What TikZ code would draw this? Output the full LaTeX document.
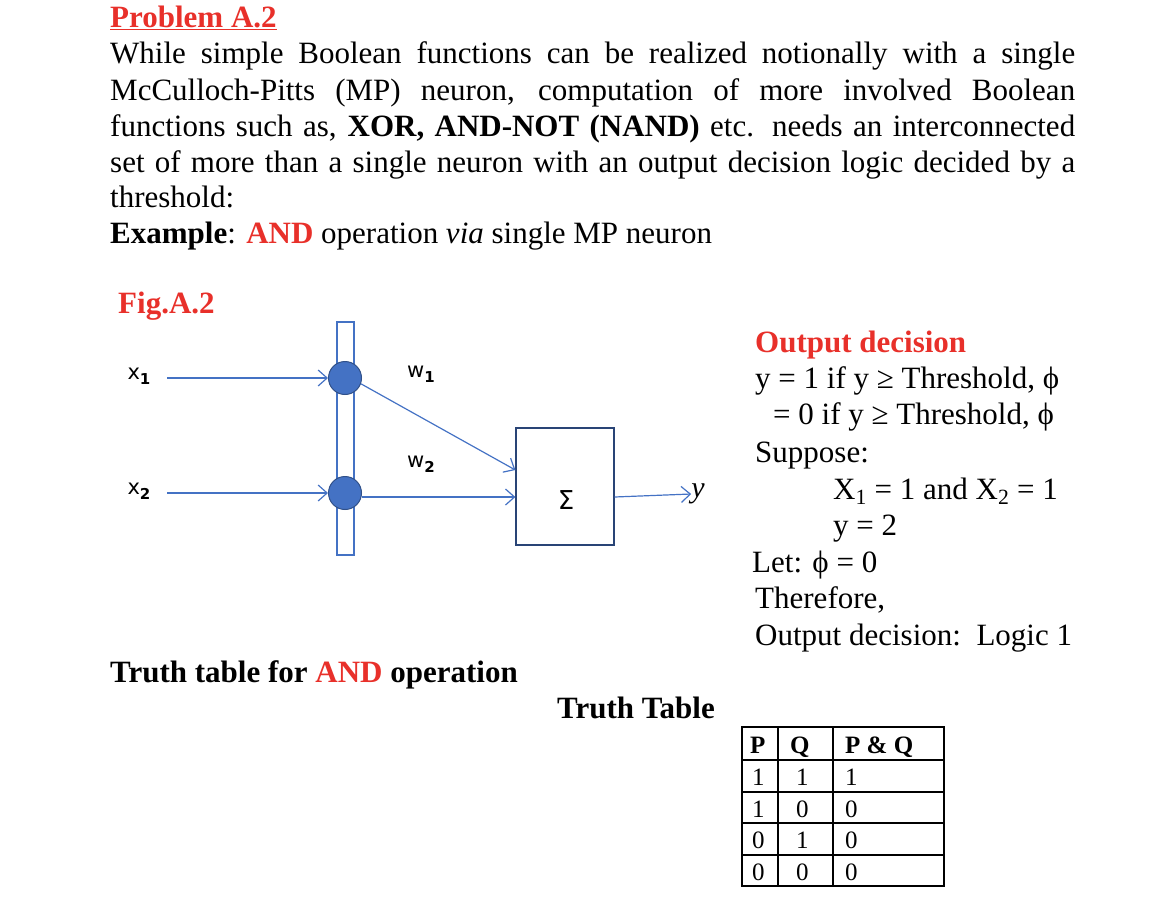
\documentclass[tikz,border=0pt]{standalone}
\usepackage{fontspec}
\setmainfont{Liberation Serif}
\newfontfamily\djv{DejaVu Sans}
\usetikzlibrary{arrows.meta}
\definecolor{rd}{HTML}{E8302A}
\definecolor{bl}{HTML}{4472C4}
\tikzset{
 txt/.style={anchor=base west,inner sep=0pt,font=\fontsize{31}{36}\selectfont},
 lab/.style={inner sep=0pt,font=\djv\fontsize{21}{24}\selectfont},
 conn/.style={draw=bl,line width=1.2pt,-{Straight Barb[length=9pt,width=16pt]}},
 cell/.style={anchor=base west,inner sep=0pt,font=\fontsize{25}{28}\selectfont}
}
\begin{document}
\begin{tikzpicture}[x=1pt,y=-1pt]
\useasboundingbox (0,0) rectangle (1170,897);
\node[txt,text=rd,font=\fontsize{31}{36}\selectfont\bfseries] (t0) at (110,27) {\underline{Problem A.2}};
\node[txt] (t1) at (110,63) {\makebox[965pt][s]{While simple Boolean functions can be realized notionally with a single}};
\node[txt] (t2) at (110,100) {\makebox[965pt][s]{McCulloch-Pitts (MP) neuron, computation of more involved Boolean}};
\node[txt] (t3) at (110,136) {\makebox[965pt][s]{functions such as, \textbf{XOR, AND-NOT (NAND)} etc. needs an interconnected}};
\node[txt] (t4) at (110,172) {\makebox[965pt][s]{set of more than a single neuron with an output decision logic decided by a}};
\node[txt] (t5) at (110,207) {threshold:};
\node[txt] (t6) at (110,243) {\textbf{Example}: \textbf{\color{rd}AND} operation \textit{via} single MP neuron};
\node[txt,text=rd,font=\fontsize{31}{36}\selectfont\bfseries] (fig) at (118,313) {Fig.A.2};
% diagram
\node[draw=bl,line width=1.2pt,minimum width=17pt,minimum height=233pt,inner sep=0pt] (bar) at (345.5,438.5) {};
\node[circle,draw=bl!70!black,fill=bl,minimum width=33pt,inner sep=0pt,line width=1pt] (n1) at (345,378) {};
\node[circle,draw=bl!70!black,fill=bl,minimum width=33pt,inner sep=0pt,line width=1pt] (n2) at (345,493) {};
\node[draw=bl!60!black,line width=1.2pt,minimum width=98pt,minimum height=117pt,inner sep=0pt] (box) at (565,486.5) {};
\node[lab,font=\djv\fontsize{26}{30}\selectfont] (s) at (566,500) {Σ};
\node[lab] (x1) at (139,376) {x\raisebox{-5pt}{\fontsize{15}{18}\selectfont\bfseries 1}};
\node[lab] (x2) at (139,491) {x\raisebox{-5pt}{\fontsize{15}{18}\selectfont\bfseries 2}};
\node[lab] (w1) at (421,374) {w\raisebox{-5pt}{\fontsize{15}{18}\selectfont\bfseries 1}};
\node[lab] (w2) at (421,464) {w\raisebox{-5pt}{\fontsize{15}{18}\selectfont\bfseries 2}};
\node[lab,font=\fontsize{30}{34}\selectfont\itshape] (yy) at (698,494) {y};
\coordinate (a1) at (167,378);
\coordinate (a2) at (167,493);
\draw[conn] (a1) -- (n1.west);
\draw[conn] (a2) -- (n2.west);
\draw[conn] (n1.-20) -- (box.north west |- 0,470);
\draw[conn] (n2.east |- 0,497) -- (box.west |- 0,497);
\draw[conn] (box.east |- 0,497) -- (yy.west);
% right text
\node[txt,text=rd,font=\fontsize{31}{36}\selectfont\bfseries] (od) at (755,352) {Output decision};
\node[txt] (r1) at (755,388) {y = 1 if y ≥ Threshold, ϕ};
\node[txt] (r2) at (773,424) {= 0 if y ≥ Threshold, ϕ};
\node[txt] (r3) at (755,462) {Suppose:};
\node[txt] (r4) at (833,499) {X\textsubscript{1} = 1 and X\textsubscript{2} = 1};
\node[txt] (r5) at (833,535) {y = 2};
\node[txt] (r6) at (752,572) {Let: ϕ = 0};
\node[txt] (r7) at (755,608) {Therefore,};
\node[txt] (r8) at (755,645) {Output decision:\ \ Logic 1};
\node[txt,font=\fontsize{31}{36}\selectfont\bfseries] (tt) at (110,682) {Truth table for {\color{rd}AND} operation};
\node[txt,font=\fontsize{31}{36}\selectfont\bfseries] (tt2) at (557,718) {Truth Table};
% table
\draw[line width=1.6pt] (742,727) rectangle (944,886);
\foreach \yv in {760,792,823,855} \draw[line width=1.2pt] (742,\yv) -- (944,\yv);
\foreach \xv in {778,833} \draw[line width=1.2pt] (\xv,727) -- (\xv,886);
\node[cell,font=\fontsize{25}{28}\selectfont\bfseries] (h1) at (750,753) {P};
\node[cell,font=\fontsize{25}{28}\selectfont\bfseries] (h2) at (790,753) {Q};
\node[cell,font=\fontsize{25}{28}\selectfont\bfseries] (h3) at (845,753) {P \& Q};
\foreach \yv/\p/\q/\r in {785/1/1/1,817/1/0/0,848/0/1/0,880/0/0/0}{
 \node[cell] at (752,\yv) {\p};
 \node[cell] at (796,\yv) {\q};
 \node[cell] at (845,\yv) {\r};
}
\end{tikzpicture}
\end{document}
